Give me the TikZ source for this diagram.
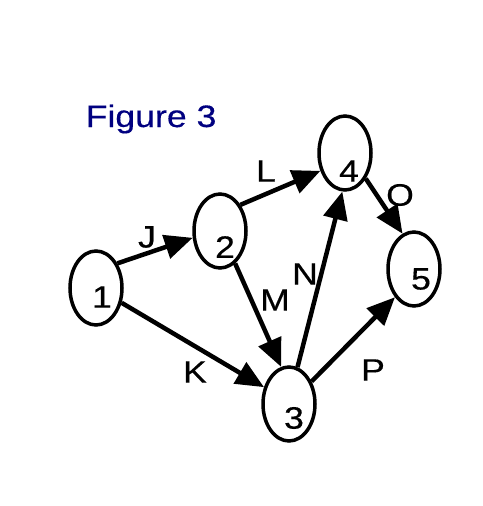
\documentclass[tikz,border=0pt]{standalone}
\usepackage{fontspec}
\setmainfont{Liberation Sans}[FakeStretch=1.15,FakeBold=0.4]
\usetikzlibrary{shapes.geometric,arrows.meta}
\definecolor{titleblue}{RGB}{0,0,128}
\begin{document}
\begin{tikzpicture}[x=1pt,y=-1pt,
  every node/.style={font=\fontsize{31}{36}\selectfont, inner sep=0pt},
  event/.style={draw, ellipse, line width=3.5pt, minimum width=52pt, minimum height=74pt},
  act/.style={line width=4.5pt, -{Triangle[length=28pt,width=24pt]}}]
\useasboundingbox (0,0) rectangle (482,506);
\node[anchor=base west, text=titleblue] (title) at (85.5,127) {Figure 3};
\node[event, label={[xshift=6pt,yshift=-9pt]center:1}] (n1) at (96,288) {};
\node[event, label={[xshift=5pt,yshift=-16pt]center:2}] (n2) at (220,231) {};
\node[event, label={[xshift=5pt,yshift=-14pt]center:3}] (n3) at (289,404) {};
\node[event, label={[xshift=4pt,yshift=-18pt]center:4}] (n4) at (345,153) {};
\node[event, label={[xshift=7pt,yshift=-10pt]center:5}] (n5) at (414,269) {};
\draw[act] (n1.49) -- (n2.194);
\draw[act] (n1.-30) -- (n3.146);
\draw[act] (n2.-65) -- (n3.102);
\draw[act] (n3.77) -- (n4.266);
\draw[act] (n2.52) -- (n4.216);
\draw[act] (n4.-51) -- (n5.108);
\draw[act] (n3.45) -- (n5.236);
\node (lJ) at (147,237) {J};
\node (lK) at (195,372) {K};
\node (lL) at (266,171) {L};
\node (lM) at (275,300) {M};
\node (lN) at (305,274) {N};
\node (lO) at (400,195) {O};
\node (lP) at (373,370) {P};
\end{tikzpicture}
\end{document}
